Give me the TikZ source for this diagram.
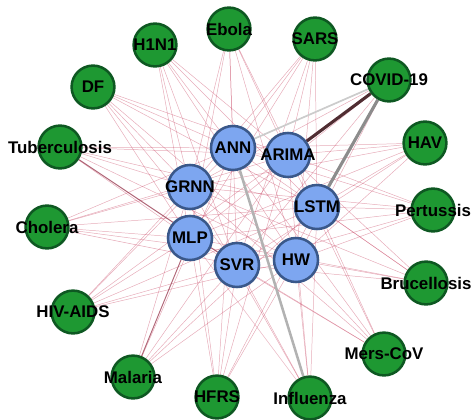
\documentclass[tikz,border=0pt]{standalone}
\usepackage{fontspec}
\setmainfont{Liberation Sans}
\usetikzlibrary{backgrounds}

\definecolor{ziektegroen}{RGB}{30,152,50}
\definecolor{ziekterand}{RGB}{14,88,34}
\definecolor{modelblauw}{RGB}{125,166,240}
\definecolor{modelrand}{RGB}{58,88,138}
\definecolor{randrood}{RGB}{200,70,100}
\definecolor{randdonker}{RGB}{80,45,50}

\begin{document}
\begin{tikzpicture}[x=0.025cm, y=-0.025cm]
            \useasboundingbox (0,0) rectangle (474,420);

            % Stijlen
            \tikzset{ziekte/.style={circle, fill=ziektegroen, draw=ziekterand, line width=1.8pt,
                                    minimum size=1.07cm, inner sep=0pt,
                                    label={[font=\bfseries\large, text=black]center:#1}}}
            \tikzset{model/.style={circle, fill=modelblauw, draw=modelrand, line width=1.8pt,
                                   minimum size=1.1cm, inner sep=0pt,
                                   label={[font=\bfseries\large, text=black]center:#1}}}
            \tikzset{rand/.style={randrood, opacity=0.45, line width=0.35pt}}

            % Ziekten
            \node[ziekte=H1N1] (h1n1) at (155,45) {};
            \node[ziekte=Ebola] (ebola) at (229,29) {};
            \node[ziekte=SARS] (sars) at (315,39) {};
            \node[ziekte=COVID-19] (covid) at (389,80) {};
            \node[ziekte=HAV] (hav) at (425,143) {};
            \node[ziekte=Pertussis] (pert) at (433,210) {};
            \node[ziekte=Brucellosis] (bruc) at (426,283) {};
            \node[ziekte=Mers-CoV] (mers) at (384,354) {};
            \node[ziekte=Influenza] (infl) at (310,398) {};
            \node[ziekte=HFRS] (hfrs) at (217,397) {};
            \node[ziekte=Malaria] (mal) at (133,377) {};
            \node[ziekte=HIV-AIDS] (hiv) at (73,312) {};
            \node[ziekte=Cholera] (chol) at (47,227) {};
            \node[ziekte=Tuberculosis] (tb) at (60,147) {};
            \node[ziekte=DF] (df) at (93,87) {};

            % Modellen
            \node[model=ANN] (ann) at (233,148) {};
            \node[model=ARIMA] (arima) at (288,155) {};
            \node[model=GRNN] (grnn) at (190,187) {};
            \node[model=LSTM] (lstm) at (317,207) {};
            \node[model=MLP] (mlp) at (190,238) {};
            \node[model=SVR] (svr) at (237,265) {};
            \node[model=HW] (hw) at (296,260) {};

            % Verbindingen
            \begin{scope}[on background layer]
                \foreach \z in {h1n1,ebola,sars,covid,hav,pert,bruc,mers,infl,hfrs,mal,hiv,chol,tb,df}
                    \foreach \m in {ann,arima,grnn,lstm,mlp,svr,hw}
                        \draw[rand] (\z) -- (\m);
                \draw[randrood!70!black, opacity=0.6, line width=0.7pt] (tb) -- (svr);
                \draw[randrood!70!black, opacity=0.6, line width=0.7pt] (mal) -- (mlp);
                \draw[black!20, line width=1.2pt] (covid) -- (ann);
                \draw[black!30, line width=1.8pt] (ann) -- (infl);
                \draw[black!45, line width=2.2pt] (covid) -- (lstm);
                \draw[randdonker, line width=2.2pt] (covid) -- (arima);
            \end{scope}
        \end{tikzpicture}
\end{document}
